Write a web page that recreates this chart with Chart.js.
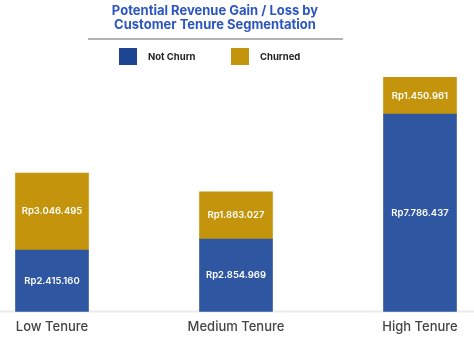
<!DOCTYPE html>
<html>
<head>
<meta charset="utf-8">
<script src="https://cdn.jsdelivr.net/npm/chart.js@4.4.1/dist/chart.umd.min.js"></script>
<style>
  html, body { margin: 0; padding: 0; background: #fff; }
  #wrap { width: 474px; height: 342px; position: relative; }
</style>
</head>
<body>
<div id="wrap"><canvas id="tenureChart"></canvas></div>
<script>
// Revenue per tenure segment (Rp)
const segments = ["Low Tenure", "Medium Tenure", "High Tenure"];
const notChurn = [2415160, 2854969, 7786437];
const churned = [3046495, 1863027, 1450961];
const seriesNames = ["Not Churn", "Churned"];
const titleLines = ["Potential Revenue Gain / Loss by", "Customer Tenure Segmentation"];

const BLUE = "#2f56a0";
const GOLD = "#c4950c";
const FONT = "Inter, 'DejaVu Sans', sans-serif";

// Rp1.234.567 style
function rupiah(v) {
  return "Rp" + v.toString().replace(/\B(?=(\d{3})+(?!\d))/g, ".");
}

// Header (title, rule, legend), full-width baseline and in-bar values
const decorations = {
  id: "decorations",
  beforeDatasetsDraw(chart) {
    const ctx = chart.ctx;
    const y = chart.chartArea.bottom;
    ctx.save();
    ctx.strokeStyle = "#ececec";
    ctx.lineWidth = 2;
    ctx.beginPath();
    ctx.moveTo(0, y);
    ctx.lineTo(chart.width, y);
    ctx.stroke();
    ctx.restore();
  },
  afterDatasetsDraw(chart) {
    const ctx = chart.ctx;
    ctx.save();

    // title
    ctx.fillStyle = "#2b55c0";
    ctx.font = "bold 13px " + FONT;
    ctx.textAlign = "center";
    ctx.textBaseline = "middle";
    ctx.fillText(titleLines[0], 215, 11);
    ctx.fillText(titleLines[1], 215, 25);

    ctx.strokeStyle = "#9a9a9a";
    ctx.lineWidth = 1.5;
    ctx.beginPath();
    ctx.moveTo(88, 39);
    ctx.lineTo(343, 39);
    ctx.stroke();

    // legend
    const legendX = [119, 231];
    const swatch = ["#1e4592", GOLD];
    ctx.font = "bold 9.5px " + FONT;
    ctx.textAlign = "left";
    seriesNames.forEach((name, i) => {
      ctx.fillStyle = swatch[i];
      ctx.fillRect(legendX[i], 48, 18, 17);
      ctx.fillStyle = "#222";
      ctx.fillText(name, legendX[i] + 29, 57);
    });

    // value labels centred in each segment
    ctx.fillStyle = "#ffffff";
    ctx.font = "600 9.5px " + FONT;
    ctx.textAlign = "center";
    chart.data.datasets.forEach((ds, di) => {
      chart.getDatasetMeta(di).data.forEach((bar, i) => {
        const mid = (bar.y + bar.base) / 2;
        ctx.fillText(rupiah(ds.data[i]), bar.x, mid);
      });
    });
    ctx.restore();
  }
};

function createChart() {
  const ctx = document.getElementById("tenureChart").getContext("2d");
  new Chart(ctx, {
    type: "bar",
    data: {
      labels: segments,
      datasets: [
        { label: seriesNames[0], data: notChurn, backgroundColor: BLUE, clip: false },
        { label: seriesNames[1], data: churned, backgroundColor: GOLD, clip: false }
      ]
    },
    options: {
      responsive: true,
      maintainAspectRatio: false,
      animation: false,
      layout: { padding: { top: 58, left: 52, right: 54, bottom: 7 } },
      datasets: { bar: { barThickness: 73 } },
      plugins: {
        legend: { display: false },
        tooltip: { enabled: false }
      },
      scales: {
        x: {
          stacked: true,
          offset: false,
          grid: { display: false },
          border: { display: false },
          ticks: {
            color: "#444",
            padding: 0,
            font: { family: FONT, size: 13, weight: "500" }
          }
        },
        y: {
          stacked: true,
          display: false,
          min: 0,
          max: 10000000
        }
      }
    },
    plugins: [decorations]
  });
}

document.addEventListener("DOMContentLoaded", createChart);
</script>
</body>
</html>
